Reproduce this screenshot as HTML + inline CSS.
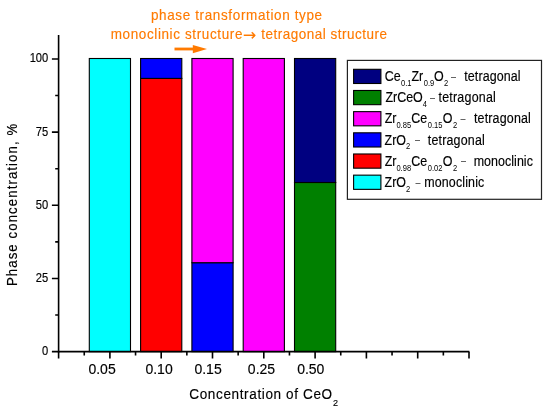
<!DOCTYPE html>
<html><head><meta charset="utf-8">
<style>
html,body{margin:0;padding:0;background:#fff;}
body{width:550px;height:414px;overflow:hidden;}
svg{display:block;}
text{font-family:"Liberation Sans",Arial,sans-serif;}
.b text{fill:#000;stroke:#000;stroke-width:0.15px;}
.o text{fill:#ff7a00;stroke:#ff7a00;stroke-width:0.15px;}
</style></head>
<body>
<svg width="550" height="414" viewBox="0 0 550 414">
<rect x="0" y="0" width="550" height="414" fill="#fff"/>
<g class="o" font-size="15">
<text transform="matrix(0.9 0 0 1 150.93 19.60)" font-size="15" textLength="190.19" lengthAdjust="spacing">phase transformation type</text>
<text transform="matrix(0.9 0 0 1 110.70 39.00)" font-size="15" textLength="146.33" lengthAdjust="spacing">monoclinic structure</text>
<text x="242.9" y="40.4" font-family="DejaVu Sans" font-size="15.7" style="font-family:'DejaVu Sans',sans-serif">→</text>
<text transform="matrix(0.9 0 0 1 261.20 39.00)" font-size="15" textLength="139.78" lengthAdjust="spacing">tetragonal structure</text>
</g>
<line x1="174.5" y1="49" x2="194" y2="49" stroke="#ff7a00" stroke-width="2.8"/>
<polygon points="192.8,45 207,49 192.8,53.2" fill="#ff7a00"/>

<g stroke="#000" stroke-width="1.1">
<rect x="89.30" y="58.50" width="41.20" height="293.15" fill="#00ffff"/>
<rect x="140.60" y="78.40" width="41.20" height="273.25" fill="#ff0000"/>
<rect x="140.60" y="58.50" width="41.20" height="19.90" fill="#0000ff"/>
<rect x="191.90" y="262.70" width="41.20" height="88.95" fill="#0000ff"/>
<rect x="191.90" y="58.50" width="41.20" height="204.20" fill="#ff00ff"/>
<rect x="243.20" y="58.50" width="41.20" height="293.15" fill="#ff00ff"/>
<rect x="294.50" y="182.50" width="41.20" height="169.15" fill="#008000"/>
<rect x="294.50" y="58.50" width="41.20" height="124.00" fill="#000080"/>
</g>

<g stroke="#000" stroke-width="1.6" fill="none">
<line x1="58.6" y1="35" x2="58.6" y2="352.45"/>
<line x1="51.9" y1="351.65" x2="469.4" y2="351.65"/>
<path d="M51.9 58.95H58.6 M51.9 132.12H58.6 M51.9 205.30H58.6 M51.9 278.47H58.6 "/>
<path d="M55.2 95.54H58.6 M55.2 168.71H58.6 M55.2 241.89H58.6 M55.2 315.06H58.6 "/>
<path d="M58.60 351.65V358.5 M109.90 351.65V358.5 M161.20 351.65V358.5 M212.50 351.65V358.5 M263.80 351.65V358.5 M315.10 351.65V358.5 M366.40 351.65V358.5 M417.70 351.65V358.5 M469.00 351.65V358.5 "/>
<path d="M84.25 351.65V355.5 M135.55 351.65V355.5 M186.85 351.65V355.5 M238.15 351.65V355.5 M289.45 351.65V355.5 M340.75 351.65V355.5 M392.05 351.65V355.5 M443.35 351.65V355.5 "/>
</g>

<g class="b">
<g font-size="12" text-anchor="end">
<text transform="matrix(0.93 0 0 1 48.24 62.35)">100</text>
<text transform="matrix(0.93 0 0 1 48.27 135.52)">75</text>
<text transform="matrix(0.93 0 0 1 48.24 208.70)">50</text>
<text transform="matrix(0.93 0 0 1 48.27 281.87)">25</text>
<text transform="matrix(0.93 0 0 1 48.24 355.05)">0</text>
</g>
<g font-size="14">
<text x="88.45" y="374">0.05</text>
<text x="145.45" y="374">0.10</text>
<text x="194.45" y="374">0.15</text>
<text x="247.85" y="374">0.25</text>
<text x="297.15" y="374">0.50</text>
</g>
<text transform="matrix(0.88 0 0 1 189.31 399.30)" font-size="15.4" textLength="162.31" lengthAdjust="spacing">Concentration of CeO</text>
<text font-size="9" x="333" y="405.6">2</text>
<text transform="matrix(0 -0.86 1 0 17.30 286.09)" font-size="15.4" textLength="188.79" lengthAdjust="spacing">Phase concentration, %</text>
<text transform="matrix(0.89 0 0 1 384.87 81.20)" font-size="14">Ce</text>
<text transform="matrix(0.89 0 0 1 401.00 86.00)" font-size="8.5" style="stroke:none">0.1</text>
<text transform="matrix(0.89 0 0 1 411.50 81.20)" font-size="14">Zr</text>
<text transform="matrix(0.89 0 0 1 423.70 86.00)" font-size="8.5" style="stroke:none">0.9</text>
<text transform="matrix(0.89 0 0 1 434.11 81.20)" font-size="14">O</text>
<text transform="matrix(0.89 0 0 1 444.12 86.00)" font-size="8.5" style="stroke:none">2</text>
<text transform="matrix(1.0 0 0 1 450.90 79.70)" font-size="9" style="stroke:none">–</text>
<text transform="matrix(0.89 0 0 1 464.31 81.20)" font-size="14" textLength="63.17" lengthAdjust="spacing">tetragonal</text>
<text transform="matrix(0.89 0 0 1 385.40 102.30)" font-size="14">ZrCeO</text>
<text transform="matrix(0.89 0 0 1 422.73 107.10)" font-size="8.5" style="stroke:none">4</text>
<text transform="matrix(1.0 0 0 1 430.00 100.80)" font-size="9" style="stroke:none">–</text>
<text transform="matrix(0.89 0 0 1 438.51 102.30)" font-size="14" textLength="64.41" lengthAdjust="spacing">tetragonal</text>
<text transform="matrix(0.89 0 0 1 384.70 123.40)" font-size="14">Zr</text>
<text transform="matrix(0.89 0 0 1 396.40 128.20)" font-size="8.5" style="stroke:none">0.85</text>
<text transform="matrix(0.89 0 0 1 411.37 123.40)" font-size="14">Ce</text>
<text transform="matrix(0.89 0 0 1 427.70 128.20)" font-size="8.5" style="stroke:none">0.15</text>
<text transform="matrix(0.89 0 0 1 442.71 123.40)" font-size="14">O</text>
<text transform="matrix(0.89 0 0 1 453.12 128.20)" font-size="8.5" style="stroke:none">2</text>
<text transform="matrix(1.0 0 0 1 460.60 121.90)" font-size="9" style="stroke:none">–</text>
<text transform="matrix(0.89 0 0 1 474.01 123.40)" font-size="14" textLength="63.85" lengthAdjust="spacing">tetragonal</text>
<text transform="matrix(0.89 0 0 1 384.60 144.60)" font-size="14">ZrO</text>
<text transform="matrix(0.89 0 0 1 406.02 149.40)" font-size="8.5" style="stroke:none">2</text>
<text transform="matrix(1.0 0 0 1 415.00 143.10)" font-size="9" style="stroke:none">–</text>
<text transform="matrix(0.89 0 0 1 427.81 144.60)" font-size="14" textLength="64.07" lengthAdjust="spacing">tetragonal</text>
<text transform="matrix(0.89 0 0 1 384.70 165.80)" font-size="14">Zr</text>
<text transform="matrix(0.89 0 0 1 396.40 170.60)" font-size="8.5" style="stroke:none">0.98</text>
<text transform="matrix(0.89 0 0 1 411.37 165.80)" font-size="14">Ce</text>
<text transform="matrix(0.89 0 0 1 427.70 170.60)" font-size="8.5" style="stroke:none">0.02</text>
<text transform="matrix(0.89 0 0 1 442.71 165.80)" font-size="14">O</text>
<text transform="matrix(0.89 0 0 1 453.12 170.60)" font-size="8.5" style="stroke:none">2</text>
<text transform="matrix(1.0 0 0 1 461.10 164.30)" font-size="9" style="stroke:none">–</text>
<text transform="matrix(0.89 0 0 1 473.67 165.80)" font-size="14" textLength="66.58" lengthAdjust="spacing">monoclinic</text>
<text transform="matrix(0.89 0 0 1 384.60 187.00)" font-size="14">ZrO</text>
<text transform="matrix(0.89 0 0 1 406.02 191.80)" font-size="8.5" style="stroke:none">2</text>
<text transform="matrix(1.0 0 0 1 415.60 185.50)" font-size="9" style="stroke:none">–</text>
<text transform="matrix(0.89 0 0 1 424.17 187.00)" font-size="14" textLength="67.59" lengthAdjust="spacing">monoclinic</text>
</g>

<rect x="347.4" y="60.4" width="194.1" height="138.9" fill="none" stroke="#222" stroke-width="1.2"/>
<g stroke="#000" stroke-width="1.1">
<rect x="353.6" y="69.30" width="27.3" height="14.2" fill="#000080"/>
<rect x="353.6" y="90.47" width="27.3" height="14.2" fill="#008000"/>
<rect x="353.6" y="111.64" width="27.3" height="14.2" fill="#ff00ff"/>
<rect x="353.6" y="132.81" width="27.3" height="14.2" fill="#0000ff"/>
<rect x="353.6" y="153.98" width="27.3" height="14.2" fill="#ff0000"/>
<rect x="353.6" y="175.15" width="27.3" height="14.2" fill="#00ffff"/>
</g>
</svg>
</body></html>
